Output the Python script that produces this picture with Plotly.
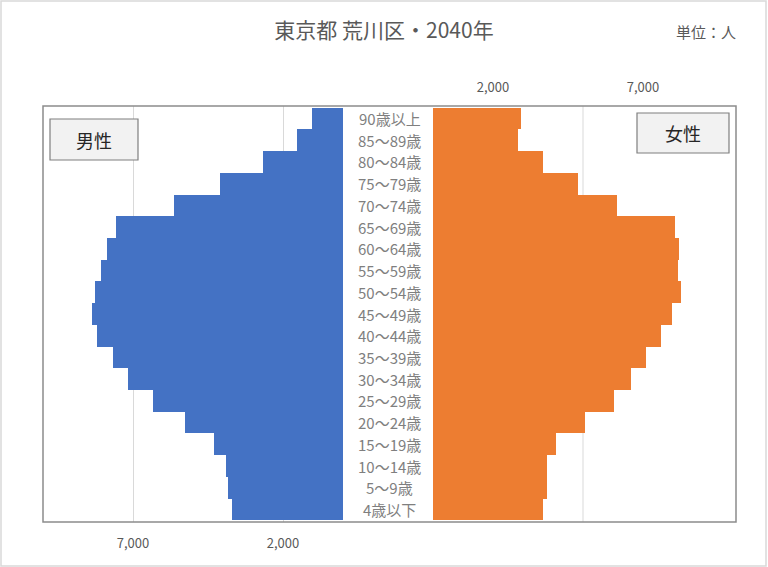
"""Population pyramid: Arakawa-ku, Tokyo, 2040 projection"""
import plotly.graph_objects as go

# age groups, oldest first so they stack top-down
ages = [
    "90歳以上", "85～89歳", "80～84歳", "75～79歳", "70～74歳",
    "65～69歳", "60～64歳", "55～59歳", "50～54歳", "45～49歳",
    "40～44歳", "35～39歳", "30～34歳", "25～29歳", "20～24歳",
    "15～19歳", "10～14歳", "5～9歳", "4歳以下",
]

male = [
    1030, 1540, 2660, 4100, 5620, 7560, 7880, 8080, 8280, 8380,
    8190, 7680, 7160, 6320, 5280, 4300, 3900, 3820, 3710,
]

female = [
    2930, 2840, 3660, 4840, 6130, 8060, 8210, 8160, 8280, 7980,
    7590, 7110, 6610, 6020, 5080, 4110, 3810, 3790, 3680,
]

tick_vals = [2000, 7000]
tick_text = ["2,000", "7,000"]

BLUE = "#4472c4"
ORANGE = "#ed7d31"
GREY_TXT = "#595959"
FONT = "Noto Sans CJK JP"

fig = go.Figure()
fig.add_trace(
    go.Bar(
        y=ages, x=male, orientation="h", xaxis="x", yaxis="y",
        marker=dict(color=BLUE, line_width=0), name="男性",
    )
)
fig.add_trace(
    go.Bar(
        y=ages, x=female, orientation="h", xaxis="x2", yaxis="y",
        marker=dict(color=ORANGE, line_width=0), name="女性",
    )
)

# age labels in the middle gap
for a in ages:
    fig.add_annotation(
        x=0.5, xref="paper", y=a, yref="y", text=a,
        showarrow=False, font=dict(size=15, color="#7f7f7f", family=FONT),
        xanchor="center", yanchor="middle",
    )

fig.update_layout(
    width=768,
    height=567,
    margin=dict(l=43, r=32, t=106, b=45),
    paper_bgcolor="white",
    plot_bgcolor="white",
    showlegend=False,
    bargap=0,
    font=dict(family=FONT, color=GREY_TXT),
    xaxis=dict(
        domain=[0, 300 / 693],
        range=[10000, 0],
        tickvals=tick_vals,
        ticktext=tick_text,
        showgrid=True,
        gridcolor="#d9d9d9",
        zeroline=False,
        ticks="outside",
        ticklen=9,
        tickcolor="rgba(0,0,0,0)",
        tickfont=dict(size=13, color=GREY_TXT),
        fixedrange=True,
    ),
    xaxis2=dict(
        domain=[390 / 693, 1],
        range=[0, 10100],
        side="top",
        anchor="y",
        tickvals=tick_vals,
        ticktext=tick_text,
        showgrid=False,
        zeroline=False,
        ticks="outside",
        ticklen=8,
        tickcolor="rgba(0,0,0,0)",
        tickfont=dict(size=13, color=GREY_TXT),
    ),
    yaxis=dict(
        autorange="reversed",
        showticklabels=False,
        showgrid=False,
        zeroline=False,
    ),
    title=dict(
        text="東京都 荒川区・2040年",
        x=0.5, xanchor="center", y=1 - 31 / 567, yanchor="middle",
        font=dict(size=21, color=GREY_TXT, family=FONT),
    ),
)

# female side gridline (sits at 5,000 in the original)
fig.add_shape(
    type="line", xref="x2", yref="paper", x0=5000, x1=5000, y0=0, y1=1,
    line=dict(color="#d9d9d9", width=1), layer="below",
)
# plot frame
fig.add_shape(
    type="rect", xref="paper", yref="paper", x0=0, x1=1, y0=0, y1=1,
    line=dict(color="#8c8c8c", width=1.5),
)
# outer chart border
fig.add_shape(
    type="rect", xref="paper", yref="paper",
    x0=-42 / 693, x1=1 + 30 / 693, y0=-44 / 416, y1=1 + 105 / 416,
    line=dict(color="#d9d9d9", width=1.5),
)

# sex label boxes
for txt, x0, x1, y0, y1 in [("男性", 50, 138, 119, 160), ("女性", 637, 729, 113, 153)]:
    fig.add_shape(
        type="rect", xref="paper", yref="paper",
        x0=(x0 - 43) / 693, x1=(x1 - 43) / 693,
        y0=(522 - y1) / 416, y1=(522 - y0) / 416,
        fillcolor="#f2f2f2", line=dict(color="#7f7f7f", width=1.2),
    )
    fig.add_annotation(
        x=((x0 + x1) / 2 - 43) / 693, y=(522 - (y0 + y1) / 2) / 416,
        xref="paper", yref="paper", text=txt, showarrow=False,
        xanchor="center", yanchor="middle",
        font=dict(size=18, color="#262626", family=FONT),
    )

fig.add_annotation(
    x=1 + 2 / 693, y=1 + 74 / 416, xref="paper", yref="paper",
    text="単位：人", showarrow=False, xanchor="right", yanchor="middle",
    font=dict(size=15, color=GREY_TXT, family=FONT),
)

fig.write_html(
    "out.html",
    config={"displayModeBar": False},
    post_script="document.body.style.margin='0';",
)
